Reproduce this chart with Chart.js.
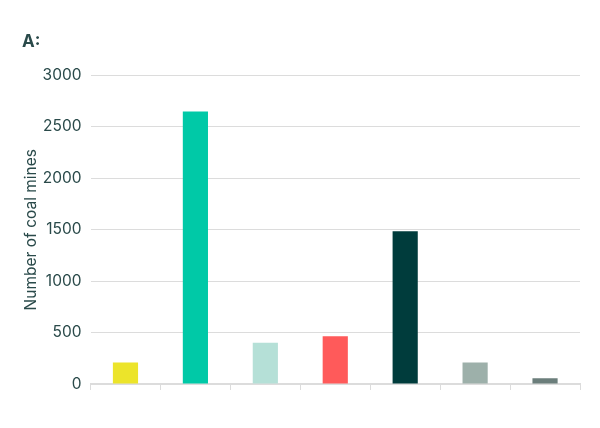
<!DOCTYPE html>
<html>
<head>
<meta charset="utf-8">
<script src="https://cdn.jsdelivr.net/npm/chart.js@4"></script>
<style>
  html, body { margin: 0; padding: 0; background: #fff; }
  #wrap { width: 600px; height: 428px; }
</style>
</head>
<body>
<div id="wrap"><canvas id="chartCanvas"></canvas></div>
<script>
//data
const categories = ["1", "2", "3", "4", "5", "6", "7"];
const mineCounts = [210, 2650, 400, 465, 1485, 210, 55];
const barColors = ["#ece42a", "#00c9a7", "#b5e0d7", "#ff5a5a", "#003c3c", "#9db0aa", "#6b7e7b"];
const yTicks = [0, 500, 1000, 1500, 2000, 2500, 3000];

const textColor = "#2a4a4a";

//chart
const chart = new Chart(document.getElementById("chartCanvas"), {
  type: "bar",
  data: {
    labels: categories,
    datasets: [
      {
        data: mineCounts,
        backgroundColor: barColors,
        barPercentage: 0.72,
        categoryPercentage: 0.5,
      },
    ],
  },
  options: {
    responsive: true,
    maintainAspectRatio: false,
    animation: false,
    layout: { padding: { left: 22, right: 20, top: 32, bottom: 38 } },
    plugins: {
      legend: { display: false },
      tooltip: { enabled: false },
      title: {
        display: true,
        text: "A:",
        align: "start",
        color: textColor,
        font: { family: "Inter", size: 17, weight: "bold" },
        padding: { top: 0, bottom: 23 },
      },
    },
    scales: {
      x: {
        offset: true,
        grid: {
          offset: true,
          drawOnChartArea: false,
          drawTicks: true,
          tickLength: 6,
          color: "#dcdcdc",
        },
        border: { color: "#dcdcdc", width: 2 },
        ticks: { display: false },
      },
      y: {
        min: 0,
        max: 3000,
        afterBuildTicks: (axis) => {
          axis.ticks = yTicks.map((v) => ({ value: v }));
        },
        grid: { color: "#dcdcdc", drawTicks: false, lineWidth: 1 },
        border: { display: false },
        ticks: {
          color: textColor,
          padding: 9,
          font: { family: "Inter", size: 15.5 },
          callback: (v) => String(v),
        },
        title: {
          display: true,
          text: "Number of coal mines",
          color: textColor,
          font: { family: "Inter", size: 15.5 },
          padding: { top: 0, bottom: -7 },
        },
      },
    },
  },
});
</script>
</body>
</html>
